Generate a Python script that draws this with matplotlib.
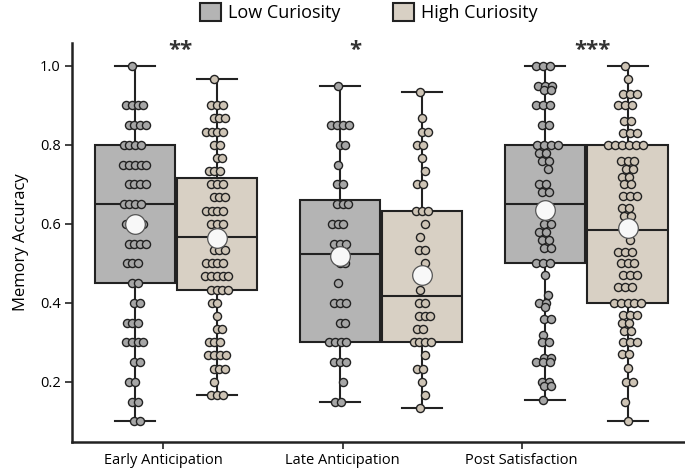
import numpy as np
import matplotlib
matplotlib.use("Agg")
import matplotlib.pyplot as plt
from matplotlib.patches import Patch

plt.rcParams['font.family'] = ['Open Sans', 'DejaVu Sans']

# LABELS
phases = ['Early Anticipation', 'Late Anticipation', 'Post Satisfaction']
groups = ['Low Curiosity', 'High Curiosity']
stars = ['**', '*', '***']

# BOX STATS (early, late, post)
low_q1 = [0.45, 0.30, 0.50]
low_med = [0.65, 0.525, 0.65]
low_q3 = [0.80, 0.66, 0.80]
low_lo = [0.10, 0.15, 0.155]
low_hi = [1.00, 0.95, 1.00]
low_mean = [0.60, 0.52, 0.635]

high_q1 = [0.433, 0.30, 0.40]
high_med = [0.567, 0.417, 0.585]
high_q3 = [0.717, 0.633, 0.80]
high_lo = [0.167, 0.133, 0.10]
high_hi = [0.967, 0.933, 1.00]
high_mean = [0.565, 0.47, 0.59]

# SUBJECT POINTS: accuracy levels and how many subjects sit on each
early_low_lv = [1.0, 0.9, 0.85, 0.8, 0.75, 0.7, 0.65, 0.6, 0.55, 0.5, 0.45, 0.4, 0.35, 0.3, 0.25, 0.2, 0.15, 0.1]
early_low_n = [1, 4, 4, 4, 5, 4, 4, 4, 4, 3, 2, 2, 3, 4, 2, 2, 2, 2]
early_high_lv = [0.967, 0.9, 0.867, 0.833, 0.8, 0.767, 0.733, 0.7, 0.667, 0.633, 0.6, 0.533, 0.5,
                 0.467, 0.433, 0.4, 0.367, 0.333, 0.3, 0.267, 0.233, 0.2, 0.167]
early_high_n = [1, 3, 3, 4, 2, 2, 3, 3, 3, 4, 3, 3, 4, 5, 4, 2, 1, 2, 3, 4, 3, 1, 3]

late_low_lv = [0.95, 0.85, 0.8, 0.75, 0.7, 0.65, 0.6, 0.55, 0.5, 0.45, 0.4, 0.35, 0.3, 0.25, 0.2, 0.15]
late_low_n = [1, 4, 2, 1, 2, 3, 3, 3, 2, 1, 3, 2, 4, 3, 1, 2]
late_high_lv = [0.933, 0.867, 0.833, 0.8, 0.767, 0.733, 0.7, 0.633, 0.6, 0.567, 0.533, 0.5, 0.433,
                0.4, 0.367, 0.333, 0.3, 0.267, 0.233, 0.2, 0.167, 0.133]
late_high_n = [1, 1, 2, 2, 1, 1, 2, 3, 1, 1, 2, 1, 1, 2, 3, 2, 4, 1, 2, 1, 1, 1]

post_low_lv = [1.0, 0.95, 0.94, 0.9, 0.85, 0.8, 0.78, 0.76, 0.74, 0.7, 0.68, 0.6, 0.58, 0.56, 0.54,
               0.5, 0.47, 0.42, 0.4, 0.39, 0.36, 0.32, 0.3, 0.26, 0.25, 0.2, 0.19, 0.155]
post_low_n = [3, 3, 2, 3, 2, 4, 2, 2, 1, 2, 2, 2, 2, 2, 2, 3, 1, 1, 2, 1, 2, 1, 2, 2, 3, 2, 2, 1]
post_high_lv = [1.0, 0.967, 0.93, 0.9, 0.86, 0.83, 0.8, 0.76, 0.74, 0.72, 0.7, 0.67, 0.64, 0.62, 0.56,
                0.53, 0.5, 0.47, 0.44, 0.4, 0.37, 0.35, 0.33, 0.3, 0.27, 0.235, 0.2, 0.15, 0.1]
post_high_n = [1, 1, 3, 3, 2, 3, 6, 3, 2, 2, 2, 3, 2, 2, 1, 3, 3, 3, 3, 5, 3, 2, 2, 3, 2, 1, 2, 1, 1]

low_pts = [(early_low_lv, early_low_n), (late_low_lv, late_low_n), (post_low_lv, post_low_n)]
high_pts = [(early_high_lv, early_high_n), (late_high_lv, late_high_n), (post_high_lv, post_high_n)]

# COLOURS
box_cols = ['#b4b4b4', '#d8d0c4']
dot_cols = ['#a6a6a6', '#cec4b5']
ink = '#222222'

fig = plt.figure(figsize=(6.85, 4.74), dpi=100)
ax = fig.add_axes([72/685, 1 - 442/474, 1 - 72/685, (442 - 43)/474])

offs = [-0.2, 0.2]
width = 0.39
stat_sets = [(low_q1, low_med, low_q3, low_lo, low_hi, low_mean),
             (high_q1, high_med, high_q3, high_lo, high_hi, high_mean)]

for g in range(2):
    q1, med, q3, lo, hi, mn = stat_sets[g]
    stats = [dict(q1=q1[i], med=med[i], q3=q3[i], whislo=lo[i], whishi=hi[i], mean=mn[i], fliers=[])
             for i in range(3)]
    pos = [i + offs[g] for i in range(3)]
    ax.bxp(stats, positions=pos, widths=width, patch_artist=True, showfliers=False,
           showmeans=False, capwidths=width*0.5,
           boxprops=dict(facecolor=box_cols[g], edgecolor=ink, linewidth=1.5),
           medianprops=dict(color=ink, linewidth=1.5),
           whiskerprops=dict(color=ink, linewidth=1.5),
           capprops=dict(color=ink, linewidth=1.5), zorder=1)

    # points: each level laid out as a row of overlapping dots
    pts = [low_pts, high_pts][g]
    for i in range(3):
        lv, n = pts[i]
        xs, ys = [], []
        step = 0.028 if i < 2 else 0.034
        for k, (v, c) in enumerate(zip(lv, n)):
            shift = 0.012 * ((k % 3) - 1)
            for j in range(c):
                xs.append(pos[i] + shift + (j - (c - 1) / 2) * step)
                ys.append(v)
        ax.scatter(xs, ys, s=34, facecolor=dot_cols[g], edgecolor=ink, linewidth=1.0, zorder=3)

    ax.scatter(pos, mn, s=200, facecolor='#f8f8f8', edgecolor='#555555', linewidth=0.9, zorder=4)

# significance stars (offset from each phase centre)
star_dx = [0.024, -0.127, 0.03]
for i in range(3):
    ax.text(i + star_dx[i], 1.04, stars[i], ha='center', va='center', fontsize=16,
            fontweight='bold', color='#333333')

ax.set_xlim(-0.506, 2.48)
ax.set_ylim(0.048, 1.058)
ax.set_xticks([-0.063, 0.813, 1.684])
ax.set_xticklabels(phases, fontsize=10.5)
ax.set_yticks([0.2, 0.4, 0.6, 0.8, 1.0])
ax.set_yticklabels(['0.2', '0.4', '0.6', '0.8', '1.0'], fontsize=10.5)
ax.set_ylabel('Memory Accuracy', fontsize=12, labelpad=8)
ax.tick_params(length=5, width=1.2, color=ink, pad=3)
for s in ['top', 'right']:
    ax.spines[s].set_visible(False)
for s in ['left', 'bottom']:
    ax.spines[s].set_linewidth(1.8)
    ax.spines[s].set_color(ink)

handles = [Patch(facecolor=box_cols[g], edgecolor=ink, linewidth=1.5, label=groups[g]) for g in range(2)]
fig.legend(handles=handles, loc='upper center', bbox_to_anchor=(369/685, 1.028), ncol=2,
           frameon=False, fontsize=13, handlelength=1.15, handleheight=1.15,
           handletextpad=0.4, columnspacing=2.9)

fig.savefig('out.png', dpi=100)
